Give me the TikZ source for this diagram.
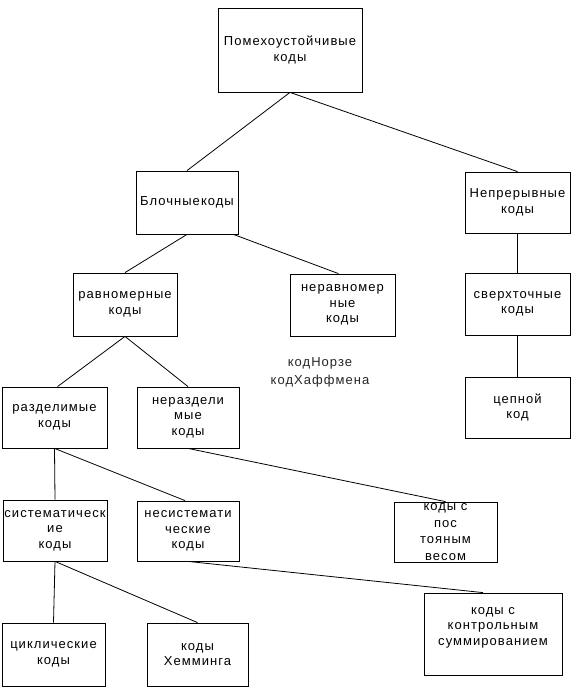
\documentclass[tikz,border=0pt]{standalone}
\usepackage{fontspec}
\setmainfont{Liberation Sans}
\newfontfamily\boxfont[LetterSpace=8]{Liberation Sans}
\usetikzlibrary{positioning}
\tikzset{
  codebox/.style={draw=black, line width=0.8pt, fill=white, align=center, inner sep=1pt,
    font=\boxfont\fontsize{13}{15.5}\selectfont},
  boxsize/.style 2 args={minimum width=#1pt, minimum height=#2pt},
  link/.style={draw=black, line width=0.8pt},
}

\begin{document}
\begin{tikzpicture}[x=1pt,y=-1pt]
  \useasboundingbox[fill=white] (0,0) rectangle (575,693);
  % levels of the tree
  \node[codebox, boxsize={144}{84}] (noise) at (290,50) {Помехоустойчивые\\коды};
  \node[codebox, boxsize={102}{63}] (block) at (187,202.5) {Блочныекоды};
  \node[codebox, boxsize={105}{61}] (cont) at (517.5,202.5) {Непрерывные\\коды};
  \node[codebox, boxsize={104}{63}] (even) at (125,304.5) {равномерные\\коды};
  \node[codebox, boxsize={105}{62}] (uneven) at (342.5,305) {неравномер\\ные\\коды};
  \node[codebox, boxsize={105}{62}] (conv) at (517.5,304) {сверхточные\\коды};
  \node[codebox, boxsize={105}{61}] (chain) at (517.5,407.5) {цепной\\код};
  \node[codebox, boxsize={105}{61}] (sep) at (54.5,417.5) {разделимые\\коды};
  \node[codebox, boxsize={102}{61}] (nonsep) at (188,417.5) {нераздели\\мые\\коды};
  \node[codebox, boxsize={104}{61}] (sys) at (55,530.5) {систематическ\\ие\\коды};
  \node[codebox, boxsize={102}{60}] (nonsys) at (188,531) {несистемати\\ческие\\коды};
  \node[codebox, boxsize={103}{60}, inner sep=0pt, font=\boxfont\fontsize{13}{16.5}\selectfont] (weight) at (445.5,532) {коды с\\пос\\тояным\\весом};
  \node[codebox, boxsize={138}{82}] (check) at (493,634) {коды с\\контрольным\\суммированием\\ };
  \node[codebox, boxsize={103}{63}] (cyclic) at (53.5,654.5) {циклические\\коды};
  \node[codebox, boxsize={101}{63}] (hamming) at (197.5,654.5) {коды\\Хемминга};
  \node[align=center, text=black!85, font=\boxfont\fontsize{13}{18}\selectfont] (huff) at (320,372) {кодНорзе\\кодХаффмена};
  % connectors
  \draw[link] (noise.south) -- (block.north);
  \draw[link] (noise.south) -- (cont.north);
  \draw[link] (block.south) -- (even.north);
  \draw[link] ([xshift=-5pt]block.south east) -- ([xshift=-4pt]uneven.north);
  \draw[link] (cont.south) -- (conv.north);
  \draw[link] (conv.south) -- (chain.north);
  \draw[link] (even.south) -- ([xshift=3pt]sep.north);
  \draw[link] (even.south) -- (nonsep.north);
  \draw[link] (sep.south) -- (sys.north);
  \draw[link] (sep.south) -- ([xshift=-3pt]nonsys.north);
  \draw[link] (nonsep.south) -- (weight.north);
  \draw[link] (nonsys.south) -- ([xshift=-10pt]check.north);
  \draw[link] (sys.south) -- (cyclic.north);
  \draw[link] (sys.south) -- (hamming.north);
\end{tikzpicture}
\end{document}
